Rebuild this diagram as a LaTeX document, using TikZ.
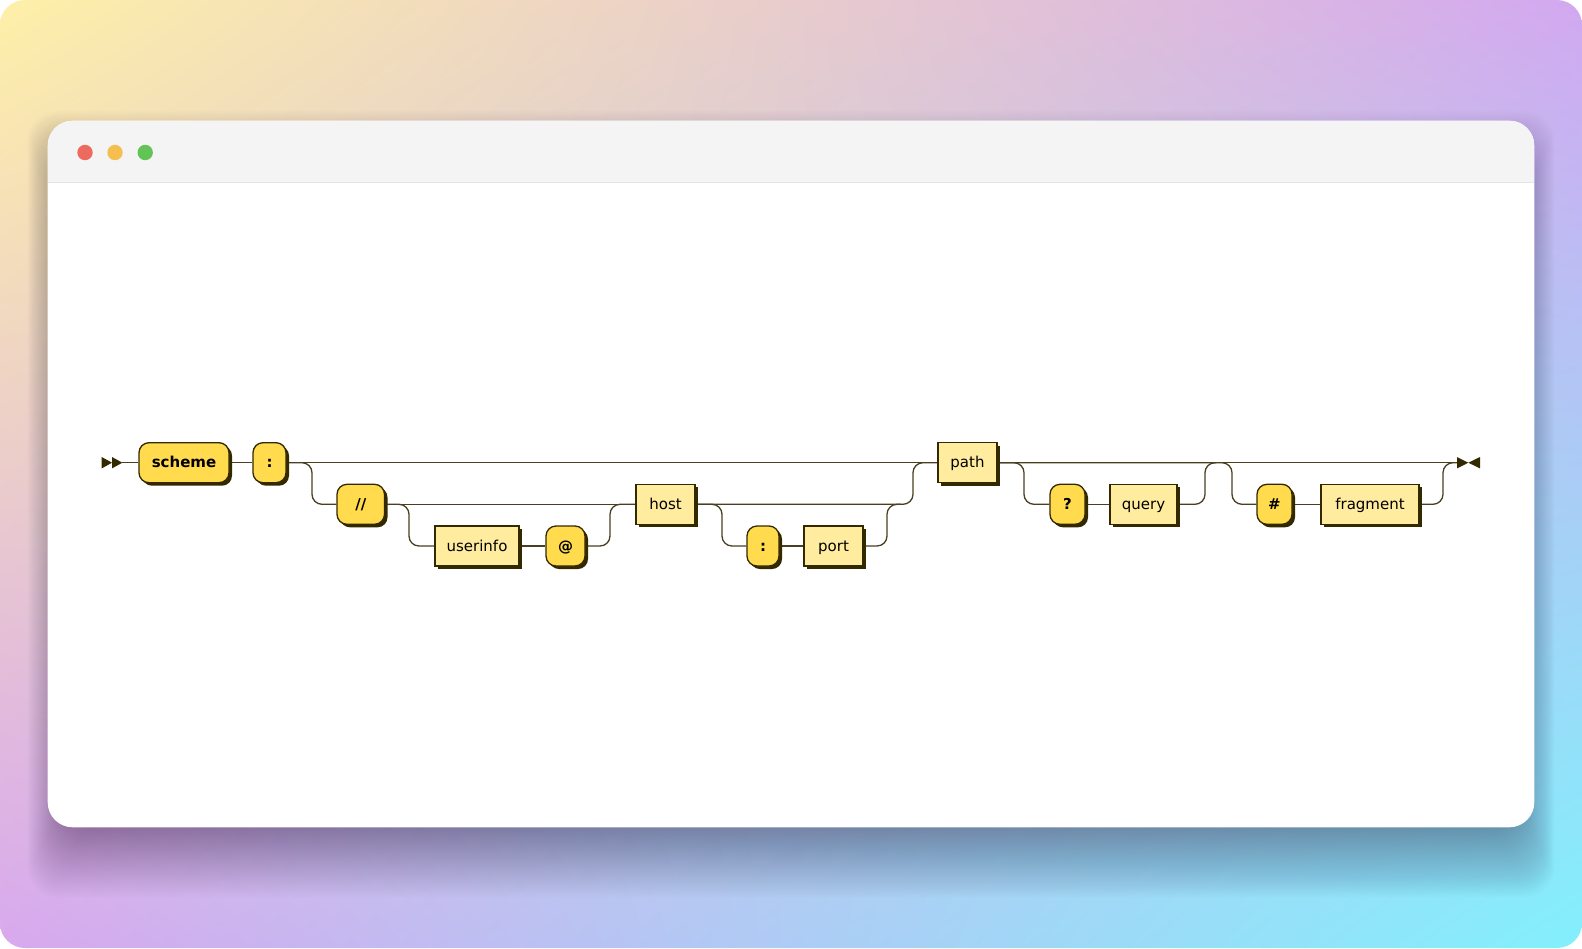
\documentclass[tikz,border=0pt]{standalone}
\usepackage{fontspec}
\setmainfont{DejaVu Sans}
\usetikzlibrary{shadows,shadings}
\definecolor{rrdark}{HTML}{332900}
\definecolor{rrterm}{HTML}{FFDB4D}
\definecolor{rrnon}{HTML}{FFEC9E}
\definecolor{rrline}{HTML}{4A3F22}
\definecolor{bgTL}{HTML}{FEF0A8}
\definecolor{bgTR}{HTML}{D2A8F0}
\definecolor{bgBL}{HTML}{D8A8EE}
\definecolor{bgBR}{HTML}{82F0FC}
\definecolor{winshadow}{HTML}{2A1E40}
\definecolor{titlebar}{HTML}{F4F4F4}
\definecolor{titleline}{HTML}{E4E4E4}
\definecolor{dotred}{HTML}{EC6A5E}
\definecolor{dotyellow}{HTML}{F4BF4F}
\definecolor{dotgreen}{HTML}{61C454}
\pgfdeclarelayer{back}
\pgfdeclarelayer{conns}
\pgfsetlayers{back,conns,main}
\begin{document}
\begin{tikzpicture}[x=1pt,y=-1pt,
  base/.style={draw=rrdark, line width=1.3pt, minimum height=40pt, inner sep=0pt,
    text height=14pt, text depth=3.5pt,
    text=black, drop shadow={shadow xshift=3pt, shadow yshift=-3pt, fill=rrdark, opacity=1}},
  term/.style={base, fill=rrterm, rounded corners=10pt, font=\fontsize{15pt}{18pt}\selectfont\bfseries},
  nonterm/.style={base, fill=rrnon, font=\fontsize{15pt}{18pt}\selectfont},
  conn/.style={draw=rrline, line width=1.3pt, rounded corners=10pt},
  tip/.style={fill=rrdark},
]
\useasboundingbox (0,0) rectangle (1582,948);
\begin{pgfonlayer}{back}
% background
\fill[white] (0,0) rectangle (1582,948);
\shade[rounded corners=25pt, upper left=bgTL, upper right=bgTR, lower left=bgBL, lower right=bgBR]
  (0,0) rectangle (1582,948);
% window shadow (stacked layers)
\foreach \s in {-40,-38,...,40} {
  \fill[winshadow, opacity=0.011, rounded corners=30pt]
    ({47.7+0.5*(\s)}, {150.7+(\s)}) rectangle ({1534.3-0.5*(\s)}, {857.3-(\s)});
}
% window
\fill[white, rounded corners=25pt] (47.7,120.7) rectangle (1534.3,827.3);
\begin{scope}
  \clip[rounded corners=25pt] (47.7,120.7) rectangle (1534.3,827.3);
  \fill[titlebar] (47.7,120.7) rectangle (1534.3,182.7);
  \draw[titleline, line width=1.2pt] (47.7,182.7) -- (1534.3,182.7);
\end{scope}
\fill[dotred] (85,152.5) circle[radius=7.7pt];
\fill[dotyellow] (115,152.5) circle[radius=7.7pt];
\fill[dotgreen] (145.2,152.5) circle[radius=7.7pt];
\end{pgfonlayer}

% rows
\def\ya{462.7}
\def\yb{504.3}
\def\yc{546}

% start / end markers
\coordinate (start) at (122.3,\ya);
\coordinate (endp) at (1457,\ya);
\fill[tip] (101.7,457) -- (112,\ya) -- (101.7,468.4) -- cycle;
\fill[tip] (112,457) -- (122.3,\ya) -- (112,468.4) -- cycle;
\fill[tip] (1457,457) -- (1468.3,\ya) -- (1457,468.4) -- cycle;
\fill[tip] (1480,457) -- (1468.3,\ya) -- (1480,468.4) -- cycle;

% nodes
\node[term, minimum width=90pt] (scheme) at (184,\ya) {scheme};
\node[term, minimum width=33pt] (colon1) at (269.5,\ya) {:};
\node[nonterm, minimum width=59pt] (path) at (967.5,\ya) {path};
\node[term, minimum width=47.5pt] (slashes) at (360.75,\yb) {//};
\node[nonterm, minimum width=59pt] (host) at (665.5,\yb) {host};
\node[term, minimum width=35pt] (q) at (1067.5,\yb) {?};
\node[nonterm, minimum width=67pt] (query) at (1143.5,\yb) {query};
\node[term, minimum width=35pt] (hash) at (1274.5,\yb) {\#};
\node[nonterm, minimum width=98pt] (fragment) at (1370,\yb) {fragment};
\node[nonterm, minimum width=84pt] (userinfo) at (477,\yc) {userinfo};
\node[term, minimum width=39pt] (at) at (565.5,\yc) {@};
\node[term, minimum width=32pt] (colon2) at (763,\yc) {:};
\node[nonterm, minimum width=59pt] (port) at (833.5,\yc) {port};

% junction coordinates
\coordinate (j1) at (312,\ya);
\coordinate (j2) at (409,\yb);
\coordinate (j3) at (610,\yc);
\coordinate (j4) at (913,\yb);
\coordinate (j5) at (722,\yb);
\coordinate (j6) at (887,\yc);
\coordinate (j6b) at (901,\yb);
\coordinate (j7) at (1024,\ya);
\coordinate (j8) at (1205,\yb);
\coordinate (j8b) at (1216,\ya);
\coordinate (j9) at (1232,\ya);
\coordinate (j10) at (1443,\yb);

% connectors (behind the boxes)
\begin{pgfonlayer}{conns}
\draw[conn] (start) -- (scheme.west);
\draw[conn] (scheme.east) -- (colon1.west);
\draw[conn] (colon1.east) -- (path.west);
\draw[conn] (path.east) -- (endp);
\draw[conn] (colon1.east) -- (j1) |- (slashes.west);
\draw[conn] (slashes.east) -- (host.west);
\draw[conn] (slashes.east) -- (j2) |- (userinfo.west);
\draw[conn] (userinfo.east) -- (at.west);
\draw[conn] (at.east) -- (j3) |- (host.west);
\draw[conn] (host.east) -- (j4) |- (path.west);
\draw[conn] (host.east) -- (j5) |- (colon2.west);
\draw[conn] (colon2.east) -- (port.west);
\draw[conn] (port.east) -- (j6) |- (j6b);
\draw[conn] (path.east) -- (j7) |- (q.west);
\draw[conn] (q.east) -- (query.west);
\draw[conn] (query.east) -- (j8) |- (j8b);
\draw[conn] (path.east) -- (j9) |- (hash.west);
\draw[conn] (hash.east) -- (fragment.west);
\draw[conn] (fragment.east) -- (j10) |- (endp);
\end{pgfonlayer}
\end{tikzpicture}
\end{document}
